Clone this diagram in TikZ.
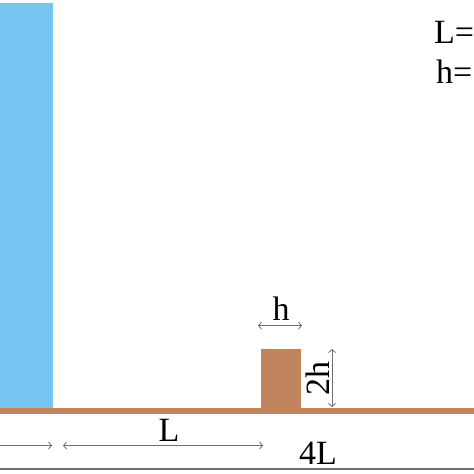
\documentclass[tikz,border=0pt]{standalone}
\usepackage{fontspec}
\setmainfont{Liberation Serif}
\usetikzlibrary{arrows.meta}
\definecolor{water}{RGB}{118,196,240}
\definecolor{soil}{RGB}{192,133,95}
\definecolor{dim}{RGB}{110,110,110}
\begin{document}
\begin{tikzpicture}[x=1pt,y=-1pt,
  dimline/.style={draw=dim,line width=0.8pt},
  dimarrow/.style={dimline,{Straight Barb[length=3pt,width=7pt]}-{Straight Barb[length=3pt,width=7pt]}},
  label/.style={font=\fontsize{34}{40}\selectfont,inner sep=0pt}]
\useasboundingbox (0,0) rectangle (474,474);
\clip (0,0) rectangle (474,474);
\fill[white] (0,0) rectangle (474,474);
% water column
\fill[water] (0,2.5) rectangle (53,408);
% floor
\fill[soil] (0,407.5) rectangle (474,414);
% block
\fill[soil] (261,349) rectangle (301,410);
% h dimension
\coordinate (hl) at (258,325.5);
\coordinate (hr) at (302,325.5);
\draw[dimarrow] (hl) -- (hr);
\node[label,anchor=base] (hlab) at (281,320) {h};
% 2h dimension
\coordinate (vt) at (332,349);
\coordinate (vb) at (332,407);
\draw[dimarrow] (vt) -- (vb);
\node[label,anchor=base,rotate=90] (vlab) at (329,378) {2h};
% bottom dimensions
\coordinate (a0) at (-5,445.5);
\coordinate (a1) at (52,445.5);
\draw[dimline,-{Straight Barb[length=3pt,width=7pt]}] (a0) -- (a1);
\coordinate (b0) at (63,445.5);
\coordinate (b1) at (263,445.5);
\draw[dimarrow] (b0) -- (b1);
\node[label,anchor=base] (Llab) at (169,441.5) {L};
\node[label,anchor=base] (fourL) at (318,464) {4L};
% gray baseline
\coordinate (g0) at (0,469);
\coordinate (g1) at (474,469);
\draw[draw=dim,line width=1.2pt] (g0) -- (g1);
% parameter text (cut at the right edge)
\node[label,anchor=base west] (Leq) at (434,43) {L=};
\node[label,anchor=base west] (heq) at (436,83) {h=};
\end{tikzpicture}
\end{document}
